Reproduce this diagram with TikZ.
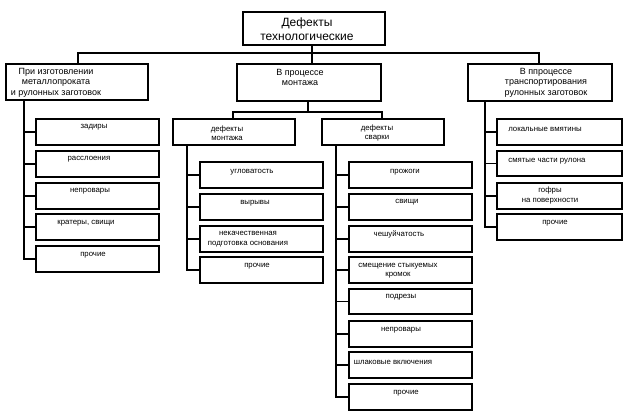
\documentclass[tikz,border=0pt]{standalone}
\usepackage{fontspec}
\setmainfont{Liberation Sans}
\newcommand\bx[5]{\node[box, minimum width={(#4-#2)*1pt}, minimum height={(#5-#3)*1pt}] (#1) at ({(#2+#4)/2},{(#3+#5)/2}) {};}
\begin{document}
\begin{tikzpicture}[x=1pt,y=-1pt,
  box/.style={draw, line width=1.2pt, inner sep=0pt, outer sep=0pt},
  conn/.style={line width=1.2pt},
  toptxt/.style={font=\fontsize{12}{14}\selectfont, align=center, inner sep=0pt},
  midtxt/.style={font=\fontsize{9}{10.5}\selectfont, align=center, inner sep=0pt},
  leaf/.style={font=\fontsize{7.8}{9.5}\selectfont, align=center, inner sep=0pt}]
\useasboundingbox (0,0) rectangle (633,414);
% top
\bx{T}{243}{12}{385}{45}
\node[toptxt] (T-t) at (307,29) {Дефекты\\технологические};
% level 1
\bx{L}{6}{64}{148}{100}
\node[midtxt] (L-t) at (56,82.5) {При изготовлении\\металлопроката\\и рулонных заготовок};
\bx{M}{237}{64}{381}{101}
\node[midtxt] (M-t) at (300,77.5) {В процессе\\монтажа};
\bx{R}{468}{64}{612}{101}
\node[midtxt] (R-t) at (546,82.5) {В ппроцессе\\транспортирования\\рулонных заготовок};
% left leaves
\bx{L1}{36}{119}{159}{145}
\node[leaf] (L1-t) at (94,127) {задиры};
\bx{L2}{36}{151}{159}{177}
\node[leaf] (L2-t) at (89,159) {расслоения};
\bx{L3}{36}{183}{159}{209}
\node[leaf] (L3-t) at (90,191) {непровары};
\bx{L4}{36}{214}{159}{240}
\node[leaf] (L4-t) at (86,223) {кратеры, свищи};
\bx{L5}{36}{246}{159}{272}
\node[leaf] (L5-t) at (93,255) {прочие};
% middle sub
\bx{MA}{173}{119}{295}{145}
\node[leaf] (MA-t) at (227,133) {дефекты\\монтажа};
\bx{MS}{322}{119}{444}{145}
\node[leaf] (MS-t) at (377,133) {дефекты\\сварки};
% montage leaves
\bx{A1}{200}{162}{323}{188}
\node[leaf] (A1-t) at (252,172) {угловатость};
\bx{A2}{200}{194}{323}{220}
\node[leaf] (A2-t) at (255,203) {вырывы};
\bx{A3}{200}{226}{323}{252}
\node[leaf] (A3-t) at (248,239) {некачественная\\подготовка основания};
\bx{A4}{200}{257}{323}{283}
\node[leaf] (A4-t) at (257,266) {прочие};
% welding leaves
\bx{S1}{349}{162}{472}{188}
\node[leaf] (S1-t) at (405,172) {прожоги};
\bx{S2}{349}{194}{472}{220}
\node[leaf] (S2-t) at (407,202) {свищи};
\bx{S3}{349}{226}{472}{252}
\node[leaf] (S3-t) at (399,234) {чешуйчатость};
\bx{S4}{349}{257}{472}{283}
\node[leaf] (S4-t) at (398,270.5) {смещение стыкуемых\\кромок};
\bx{S5}{349}{289}{472}{314}
\node[leaf] (S5-t) at (401,297) {подрезы};
\bx{S6}{349}{321}{472}{347}
\node[leaf] (S6-t) at (401,330) {непровары};
\bx{S7}{349}{352}{472}{378}
\node[leaf] (S7-t) at (393,362) {шлаковые включения};
\bx{S8}{349}{384}{472}{410}
\node[leaf] (S8-t) at (406,393) {прочие};
% right leaves
\bx{R1}{497}{119}{622}{145}
\node[leaf] (R1-t) at (545,129) {локальные вмятины};
\bx{R2}{497}{151}{622}{176}
\node[leaf] (R2-t) at (547,161) {смятые части рулона};
\bx{R3}{497}{183}{622}{209}
\node[leaf] (R3-t) at (550,195.5) {гофры\\на поверхности};
\bx{R4}{497}{214}{622}{240}
\node[leaf] (R4-t) at (555,223) {прочие};
% connector coordinates
\coordinate (bus) at (312,53);
\coordinate (Ltr) at (24,0);
\coordinate (Rtr) at (485,0);
\coordinate (Mbus) at (308,112);
\coordinate (Atr) at (187,0);
\coordinate (Str) at (336,0);
% top connectors
\draw[conn] (T.south -| bus) -- (M.north -| bus);
\draw[conn] (L.north -| 78,0) -- (78,53) -- (539,53) -- (R.north -| 539,0);
% middle split
\draw[conn] (M.south -| Mbus) -- (Mbus);
\draw[conn] (MA.north -| 233,0) -- (233,112) -- (382,112) -- (MS.north -| 382,0);
% left trunk
\draw[conn] (L.south -| Ltr) -- (Ltr |- L5.west) -- (L5.west);
\foreach \n in {L1,L2,L3,L4} \draw[conn] (Ltr |- \n.west) -- (\n.west);
% right trunk
\draw[conn] (R.south -| Rtr) -- (Rtr |- R4.west) -- (R4.west);
\foreach \n in {R1,R2,R3} \draw[conn] (Rtr |- \n.west) -- (\n.west);
% montage trunk
\draw[conn] (MA.south -| Atr) -- (Atr |- A4.west) -- (A4.west);
\foreach \n in {A1,A2,A3} \draw[conn] (Atr |- \n.west) -- (\n.west);
% welding trunk
\draw[conn] (MS.south -| Str) -- (Str |- S8.west) -- (S8.west);
\foreach \n in {S1,S2,S3,S4,S5,S6,S7} \draw[conn] (Str |- \n.west) -- (\n.west);
\end{tikzpicture}
\end{document}
